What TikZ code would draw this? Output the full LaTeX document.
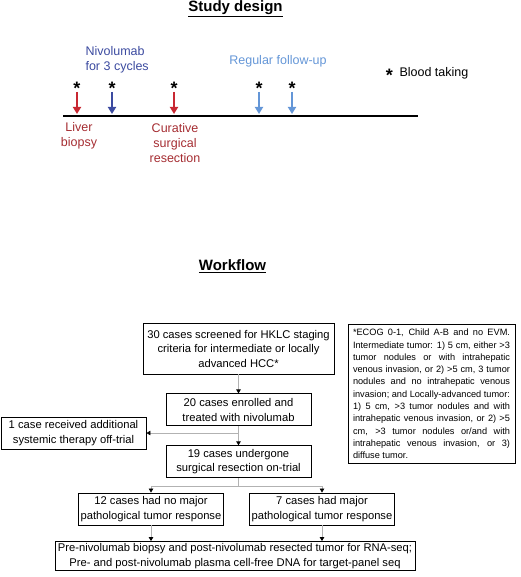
\documentclass[tikz,border=0pt]{standalone}
\usepackage{fontspec}
\setmainfont{Liberation Sans}
\usetikzlibrary{arrows.meta, positioning}
\definecolor{biopsyred}{RGB}{200,40,50}
\definecolor{labelred}{RGB}{165,45,50}
\definecolor{nivoblue}{RGB}{60,75,160}
\definecolor{followblue}{RGB}{100,150,215}
\tikzset{
  box/.style={rectangle,draw,line width=0.9pt,align=center,inner sep=2pt,minimum width=145pt,minimum height=32pt,font=\fontsize{11.2}{14.5}\selectfont},
  note/.style={rectangle,draw,line width=0.9pt,text width=157pt,align=justify,inner sep=5pt,font=\fontsize{9.2}{12.3}\selectfont},
  heading/.style={font=\fontsize{15}{15}\selectfont\bfseries,inner sep=1pt},
  tick/.style={line width=2.6pt,-{Triangle[length=7pt,width=8pt]}},
  stamp/.style={font=\fontsize{18}{18}\selectfont\bfseries,inner sep=0pt},
  event/.style={align=center,font=\fontsize{12.5}{15}\selectfont},
  line/.style={draw=gray!60,line width=0.8pt,-{Triangle[black,length=4pt,width=4.5pt]}},
  link/.style={draw=gray!60,line width=0.8pt}
}

\begin{document}
\begin{tikzpicture}[x=1pt,y=1pt]
\useasboundingbox (0,0) rectangle (520,-577);
% study design timeline
\node[heading] (design) at (235.5,-9) {\underline{Study design}};
\draw[line width=2pt] (63,-116) -- (418,-116);
\foreach \x/\col in {77/biopsyred,112/nivoblue,174/biopsyred,259/followblue,292/followblue}{
  \draw[tick,\col] (\x,-92) -- (\x,-114);
  \node[stamp] at (\x,-88) {*};
}
\node[event,text=nivoblue,align=left,anchor=west] (nivo) at (82,-60) {Nivolumab\\for 3 cycles};
\node[event,text=followblue] (follow) at (278,-61) {Regular follow-up};
\node[event,text=labelred] (liver) at (79,-135.5) {Liver\\biopsy};
\node[event,text=labelred] (curative) at (175,-143) {Curative\\surgical\\resection};
\node[event,anchor=west] (blood) at (396,-73) {Blood taking};
\node[stamp,left=3pt of blood,yshift=-2pt] (bloodstar) {*};
% workflow
\node[heading] (workflow) at (232.5,-266) {\underline{Workflow}};
\node[box,minimum width=191pt,minimum height=51pt] (screen) at (238.5,-348.5) {30 cases screened for HKLC staging\\criteria for intermediate or locally\\advanced HCC*};
\node[box,below=19pt of screen] (enrol) {20 cases enrolled and\\treated with nivolumab};
\node[box,below=19pt of enrol] (surgery) {19 cases undergone\\surgical resection on-trial};
\node[box] (offtrial) at (73.5,-433) {1 case received additional\\systemic therapy off-trial};
\node[box] (nonmajor) at (151,-509) {12 cases had no major\\pathological tumor response};
\node[box] (major) at (322,-509) {7 cases had major\\pathological tumor response};
\node[box,minimum width=360pt,minimum height=28pt] (assay) at (235,-556) {Pre-nivolumab biopsy and post-nivolumab resected tumor for RNA-seq;\\Pre- and post-nivolumab plasma cell-free DNA for target-panel seq};
\node[note] (criteria) at (431.5,-394) {\tolerance=9999\hyphenpenalty=10000\exhyphenpenalty=10000
*ECOG 0-1, Child A-B and no EVM.\linebreak
Intermediate tumor: 1) 5 cm, either >3\linebreak
tumor nodules or with intrahepatic\linebreak
venous invasion, or 2) >5 cm, 3 tumor\linebreak
nodules and no intrahepatic venous\linebreak
invasion; and Locally-advanced tumor:\linebreak
1) 5 cm, >3 tumor nodules and with\linebreak
intrahepatic venous invasion, or 2) >5\linebreak
cm, >3 tumor nodules or/and with\linebreak
intrahepatic venous invasion, or 3)\linebreak
diffuse tumor.};
\draw[line] (screen) -- (enrol);
\draw[line] (enrol) -- (surgery);
\coordinate (split) at (enrol.south |- offtrial.east);
\draw[line] (split) -- (offtrial.east);
\draw[link] (surgery.south) -- ++(0,-8) coordinate (fork);
\draw[line] (fork) -| (nonmajor.north);
\draw[line] (fork) -| (major.north);
\draw[line] (nonmajor) -- (nonmajor |- assay.north);
\draw[line] (major) -- (major |- assay.north);
\end{tikzpicture}
\end{document}
